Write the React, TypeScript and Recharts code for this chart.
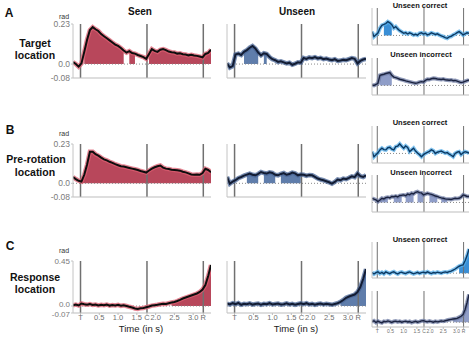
import { Area, ComposedChart, Line, ReferenceLine, XAxis, YAxis } from 'recharts'

// sample times (s), shared by every panel
const TIME = [
  -0.2, -0.125, -0.05, 0.025, 0.1, 0.175, 0.25, 0.325, 0.4, 0.475,
  0.55, 0.625, 0.7, 0.775, 0.85, 0.925, 1.0, 1.075, 1.15, 1.225,
  1.3, 1.375, 1.45, 1.525, 1.6, 1.675, 1.75, 1.825, 1.9, 1.975,
  2.05, 2.125, 2.2, 2.275, 2.35, 2.425, 2.5, 2.575, 2.65, 2.725,
  2.8, 2.875, 2.95, 3.025, 3.1, 3.175, 3.25, 3.325, 3.4, 3.475,
]

const EVENTS = [0, 1.77, 3.27]
const X_TICKS = [0, 0.5, 1, 1.5, 1.77, 2, 2.5, 3, 3.27]
const X_TICK_LABELS = ['T', '0.5', '1.0', '1.5', 'C', '2.0', '2.5', '3.0', 'R']

const Y_TICKS_AB = [0.23, 0, -0.08]
const Y_TICKS_C = [0.45, 0, -0.07]

// row A: target location
const SEEN_TARGET = [
  0.012, 0.0, -0.015, 0.004, 0.07, 0.14, 0.195, 0.212, 0.2, 0.19,
  0.172, 0.16, 0.148, 0.136, 0.124, 0.112, 0.104, 0.092, 0.078, 0.066,
  0.074, 0.063, 0.06, 0.052, 0.046, 0.04, 0.03, 0.058, 0.086, 0.076,
  0.07, 0.082, 0.086, 0.08, 0.072, 0.068, 0.066, 0.06, 0.062, 0.056,
  0.055, 0.05, 0.053, 0.049, 0.047, 0.043, 0.038, 0.058, 0.064, 0.082,
]
const SEEN_TARGET_SIG = [[0.05, 1.2], [1.3, 1.5], [1.8, 3.5]]

const UNSEEN_TARGET = [
  0.004, -0.02, -0.012, 0.055, 0.06, 0.052, 0.07, 0.08, 0.094, 0.104,
  0.09, 0.066, 0.05, 0.062, 0.058, 0.04, 0.028, 0.022, 0.012, 0.016,
  0.01, 0.004, 0.008, -0.004, 0.002, 0.01, 0.008, 0.035, 0.03, 0.038,
  0.034, 0.04, 0.032, 0.036, 0.028, 0.032, 0.026, 0.022, 0.028, 0.018,
  0.02, 0.024, 0.022, 0.028, 0.034, 0.03, 0.004, 0.018, 0.026, 0.03,
]
const UNSEEN_TARGET_SIG = [[0.2, 0.63], [0.74, 0.9]]

const CORRECT_TARGET = [
  0.032, -0.01, 0.005, 0.02, 0.06, 0.085, 0.092, 0.1, 0.116, 0.106,
  0.09, 0.062, 0.074, 0.055, 0.04, 0.03, 0.018, 0.024, 0.012, 0.022,
  0.015, 0.004, 0.01, 0.002, 0.018, 0.022, 0.012, 0.018, 0.004, 0.012,
  0.022, 0.016, 0.008, 0.014, 0.004, -0.004, -0.01, -0.018, -0.024, -0.012,
  -0.008, 0.004, 0.012, 0.024, 0.032, 0.02, 0.004, 0.014, 0.022, 0.018,
]
const CORRECT_TARGET_SIG = [[0.25, 0.6]]

const INCORRECT_TARGET = [
  0.004, 0.0, 0.008, 0.018, 0.085, 0.09, 0.094, 0.1, 0.104, 0.108,
  0.086, 0.07, 0.066, 0.06, 0.052, 0.048, 0.044, 0.038, 0.034, 0.03,
  0.026, 0.022, 0.018, 0.022, 0.028, 0.032, 0.028, 0.042, 0.052, 0.05,
  0.056, 0.06, 0.058, 0.054, 0.052, 0.05, 0.054, 0.048, 0.046, 0.044,
  0.046, 0.04, 0.042, 0.036, 0.03, 0.024, 0.028, 0.034, 0.04, 0.046,
]
const INCORRECT_TARGET_SIG = [[0.05, 0.6]]

// row B: pre-rotation location
const SEEN_PREROT = [
  0.037, 0.025, 0.015, 0.01, 0.05, 0.11, 0.185, 0.185, 0.17, 0.162,
  0.15, 0.14, 0.134, 0.126, 0.12, 0.112, 0.106, 0.1, 0.098, 0.094,
  0.09, 0.086, 0.082, 0.078, 0.072, 0.068, 0.063, 0.075, 0.086, 0.094,
  0.1, 0.104, 0.092, 0.086, 0.084, 0.08, 0.078, 0.076, 0.074, 0.068,
  0.064, 0.058, 0.052, 0.05, 0.052, 0.05, 0.06, 0.085, 0.078, 0.065,
]
const SEEN_PREROT_SIG = [[0.02, 3.5]]

const UNSEEN_PREROT = [
  0.037, -0.002, 0.01, 0.018, 0.03, 0.037, 0.045, 0.051, 0.057, 0.05,
  0.047, 0.055, 0.066, 0.06, 0.057, 0.064, 0.061, 0.05, 0.047, 0.055,
  0.06, 0.05, 0.054, 0.063, 0.058, 0.047, 0.052, 0.05, 0.044, 0.049,
  0.047, 0.038, 0.028, 0.022, 0.018, 0.012, 0.006, -0.002, 0.008, 0.022,
  0.018, 0.028, 0.024, 0.032, 0.041, 0.036, 0.057, 0.042, 0.037, 0.047,
]
const UNSEEN_PREROT_SIG = [[0.3, 0.63], [0.77, 1.12], [1.22, 1.53], [1.57, 1.78]]

const CORRECT_PREROT = [
  0.015, -0.027, -0.01, 0.005, 0.03, 0.044, 0.032, 0.03, 0.048, 0.052,
  0.036, 0.03, 0.057, 0.062, 0.08, 0.06, 0.044, 0.063, 0.05, 0.015,
  0.03, 0.044, 0.02, 0.003, -0.01, -0.027, -0.01, 0.0, 0.01, 0.018,
  0.03, 0.022, 0.0, 0.01, 0.015, 0.02, 0.012, 0.003, 0.008, -0.005,
  -0.015, -0.027, 0.0, 0.01, 0.015, -0.01, 0.005, 0.015, 0.01, 0.003,
]
const CORRECT_PREROT_SIG: number[][] = []

const INCORRECT_PREROT = [
  0.035, 0.028, 0.021, 0.007, 0.02, 0.035, 0.03, 0.04, 0.044, 0.038,
  0.05, 0.048, 0.054, 0.046, 0.058, 0.06, 0.063, 0.056, 0.07, 0.065,
  0.077, 0.072, 0.085, 0.09, 0.082, 0.08, 0.063, 0.07, 0.077, 0.072,
  0.068, 0.062, 0.054, 0.05, 0.042, 0.038, 0.035, 0.03, 0.028, 0.027,
  0.025, 0.03, 0.035, 0.032, 0.035, 0.045, 0.063, 0.058, 0.05, 0.05,
]
const INCORRECT_PREROT_SIG = [[0.1, 0.45], [0.6, 0.95], [1.05, 1.4], [1.5, 1.78], [1.95, 2.3], [2.4, 2.7]]

// row C: response location
const SEEN_RESP = [
  0.008, 0.015, 0.005, 0.025, 0.018, 0.012, 0.02, 0.01, 0.015, 0.006,
  0.012, 0.008, 0.015, 0.004, 0.01, 0.006, 0.012, 0.002, 0.008, 0.0,
  -0.008, -0.015, -0.025, -0.03, -0.022, -0.02, -0.012, -0.005, 0.004, 0.008,
  0.012, 0.018, 0.022, 0.02, 0.028, 0.035, 0.04, 0.05, 0.062, 0.075,
  0.085, 0.095, 0.105, 0.115, 0.125, 0.14, 0.165, 0.21, 0.3, 0.41,
]
const SEEN_RESP_SIG = [[2.4, 3.5]]

const UNSEEN_RESP = [
  0.025, 0.015, 0.028, 0.018, 0.03, 0.012, 0.022, 0.018, 0.026, 0.014,
  0.02, 0.024, 0.012, 0.022, 0.018, 0.028, 0.015, 0.02, 0.024, 0.014,
  0.018, 0.026, 0.016, 0.022, 0.012, 0.02, 0.026, 0.018, 0.028, 0.015,
  0.022, 0.012, 0.02, 0.025, 0.015, 0.022, 0.018, 0.012, 0.02, 0.028,
  0.042, 0.06, 0.082, 0.095, 0.105, 0.115, 0.14, 0.19, 0.27, 0.37,
]
const UNSEEN_RESP_SIG = [[2.75, 3.5]]

const CORRECT_RESP = [
  0.01, -0.012, 0.008, 0.02, -0.005, 0.012, -0.01, 0.018, 0.005, -0.008,
  0.01, 0.02, 0.0, -0.012, 0.008, 0.015, 0.002, -0.006, 0.01, 0.018,
  0.004, -0.01, 0.0, 0.012, -0.004, 0.008, 0.014, 0.004, 0.02, 0.006,
  -0.006, 0.01, 0.002, 0.015, 0.008, 0.0, 0.012, 0.018, 0.01, 0.022,
  0.03, 0.045, 0.06, 0.08, 0.1, 0.112, 0.12, 0.18, 0.25, 0.35,
]
const CORRECT_RESP_SIG = [[3.1, 3.5]]

const INCORRECT_RESP = [
  0.008, 0.02, -0.005, 0.015, 0.0, -0.01, 0.012, 0.005, 0.018, 0.008,
  -0.004, 0.01, 0.015, 0.004, 0.012, 0.0, 0.008, 0.014, 0.002, 0.01,
  -0.006, 0.004, 0.012, 0.0, 0.008, 0.018, 0.022, 0.012, 0.005, 0.015,
  0.008, 0.0, 0.012, 0.004, 0.01, 0.018, 0.012, 0.02, 0.028, 0.035,
  0.04, 0.045, 0.05, 0.055, 0.07, 0.085, 0.11, 0.18, 0.28, 0.4,
]
const INCORRECT_RESP_SIG = [[2.85, 3.5]]

interface Ink {
  fill: string
  halo: string
  line: string
  width: number
}

const SEEN_INK: Ink = { fill: '#b8475b', halo: '#dc5e70', line: '#0d0d0d', width: 2 }
const UNSEEN_INK: Ink = { fill: '#5f7dab', halo: '#4a6595', line: '#121c33', width: 2 }
const CORRECT_INK: Ink = { fill: '#3a8fd6', halo: '#55aee8', line: '#0b3963', width: 1.4 }
const INCORRECT_INK: Ink = { fill: '#8f9dc8', halo: '#6c7aa2', line: '#1b2340', width: 1.4 }

const FONT = '"Liberation Sans", Arial, Helvetica, sans-serif'

function buildRows(values: number[], sig: number[][]) {
  return TIME.map((t, i) => {
    const on = sig.some(([a, b]) => t >= a && t <= b)
    return { t, v: values[i], s: on ? values[i] : null }
  })
}

// y tick label; in tight axes the zero and bottom labels are pushed apart a little
function renderYTick(props: any, ticks: number[]) {
  const { x, y, payload } = props
  const value = Number(payload.value)
  const tight = ticks[0] > 0.3
  let nudge = 0
  if (tight && value === 0) nudge = -1.5
  if (tight && value === ticks[ticks.length - 1]) nudge = 1.5
  return (
    <text
      x={x}
      y={y + nudge}
      dy="0.35em"
      textAnchor="end"
      fontSize={tight ? 8 : 8.5}
      fill="#7a7a7a"
      fontFamily={FONT}
    >
      {value === 0 ? '0.0' : String(value)}
    </text>
  )
}

interface PanelProps {
  values: number[]
  sig: number[][]
  left: number
  top: number
  width: number
  height: number
  yDomain: [number, number]
  yTicks?: number[]
  xLabelSize?: number
  ink: Ink
  small?: boolean
}

function Panel({ values, sig, left, top, width, height, yDomain, yTicks, xLabelSize, ink, small }: PanelProps) {
  const padL = yTicks ? 30 : 2
  const padT = 6
  const padR = 4
  const axisH = xLabelSize ? xLabelSize + 6 : 4
  const rows = buildRows(values, sig)
  return (
    <div style={{ position: 'absolute', left: left - padL, top: top - padT }}>
      <ComposedChart
        width={padL + width + padR}
        height={padT + height + axisH}
        data={rows}
        margin={{ top: padT, right: padR, bottom: 0, left: 0 }}
      >
        <XAxis
          dataKey="t"
          type="number"
          domain={[-0.2, 3.475]}
          allowDataOverflow
          ticks={X_TICKS}
          interval={0}
          height={axisH}
          stroke="#bdbdbd"
          tickSize={2}
          tickMargin={0}
          tickFormatter={(v) => X_TICK_LABELS[X_TICKS.indexOf(Number(v))] ?? ''}
          tick={xLabelSize ? { fontSize: xLabelSize, fill: '#6f6f6f', fontFamily: FONT } : false}
        />
        <YAxis
          type="number"
          domain={yDomain}
          allowDataOverflow
          width={padL}
          ticks={yTicks ?? []}
          interval={0}
          stroke="#c4c4c4"
          tickSize={2}
          tickMargin={1}
          tickLine={!!yTicks}
          tick={yTicks ? (p: any) => renderYTick(p, yTicks) : false}
        />
        <Area
          dataKey="s"
          type="linear"
          fill={ink.fill}
          fillOpacity={1}
          stroke="none"
          baseValue={0}
          connectNulls={false}
          dot={false}
          activeDot={false}
          isAnimationActive={false}
        />
        <ReferenceLine y={0} stroke="#8a8a8a" strokeDasharray="1 2" />
        {EVENTS.map((e) => (
          <ReferenceLine key={e} x={e} stroke="#707070" strokeWidth={small ? 1 : 1.5} />
        ))}
        <Line
          dataKey="v"
          type="linear"
          stroke={ink.halo}
          strokeOpacity={0.75}
          strokeWidth={ink.width + 2.5}
          dot={false}
          activeDot={false}
          isAnimationActive={false}
        />
        <Line
          dataKey="v"
          type="linear"
          stroke={ink.line}
          strokeWidth={ink.width}
          dot={false}
          activeDot={false}
          isAnimationActive={false}
        />
      </ComposedChart>
    </div>
  )
}

function Text({ x, y, size, bold, color, children }: { x: number; y: number; size: number; bold?: boolean; color?: string; children: string }) {
  return (
    <div
      style={{
        position: 'absolute',
        left: x,
        top: y,
        transform: 'translate(-50%, -50%)',
        fontSize: size,
        fontWeight: bold ? 700 : 400,
        color: color ?? '#111',
        whiteSpace: 'nowrap',
        lineHeight: 1,
      }}
    >
      {children}
    </div>
  )
}

const AB: [number, number] = [-0.08, 0.23]
const C: [number, number] = [-0.07, 0.45]

export default function App() {
  return (
    <div
      style={{
        position: 'absolute',
        left: 0,
        top: 0,
        width: 474,
        height: 339,
        overflow: 'hidden',
        background: '#fff',
        fontFamily: FONT,
      }}
    >
      {/* column heads */}
      <Text x={140} y={12} size={10} bold>Seen</Text>
      <Text x={297} y={12} size={10} bold>Unseen</Text>

      {/* row A */}
      <Text x={9} y={13} size={12} bold>A</Text>
      <Text x={35} y={43} size={10.5} bold>Target</Text>
      <Text x={35} y={55} size={10.5} bold>location</Text>
      <Text x={64} y={16} size={7} color="#333">rad</Text>
      <Panel values={SEEN_TARGET} sig={SEEN_TARGET_SIG} left={73} top={24} width={138} height={54} yDomain={AB} yTicks={Y_TICKS_AB} ink={SEEN_INK} />
      <Panel values={UNSEEN_TARGET} sig={UNSEEN_TARGET_SIG} left={227} top={24} width={139} height={54} yDomain={AB} ink={UNSEEN_INK} />
      <Text x={420} y={6} size={7.5} bold>Unseen correct</Text>
      <Panel values={CORRECT_TARGET} sig={CORRECT_TARGET_SIG} left={372} top={8} width={97} height={37} yDomain={AB} ink={CORRECT_INK} small />
      <Text x={421} y={55} size={7.5} bold>Unseen incorrect</Text>
      <Panel values={INCORRECT_TARGET} sig={INCORRECT_TARGET_SIG} left={372} top={58} width={97} height={37} yDomain={AB} ink={INCORRECT_INK} small />

      {/* row B */}
      <Text x={10} y={130} size={12} bold>B</Text>
      <Text x={36} y={159} size={10.5} bold>Pre-rotation</Text>
      <Text x={35} y={172} size={10.5} bold>location</Text>
      <Text x={64} y={133} size={7} color="#333">rad</Text>
      <Panel values={SEEN_PREROT} sig={SEEN_PREROT_SIG} left={73} top={144} width={138} height={53} yDomain={AB} yTicks={Y_TICKS_AB} ink={SEEN_INK} />
      <Panel values={UNSEEN_PREROT} sig={UNSEEN_PREROT_SIG} left={227} top={144} width={139} height={53} yDomain={AB} ink={UNSEEN_INK} />
      <Text x={420} y={123} size={7.5} bold>Unseen correct</Text>
      <Panel values={CORRECT_PREROT} sig={CORRECT_PREROT_SIG} left={372} top={126} width={97} height={37} yDomain={AB} ink={CORRECT_INK} small />
      <Text x={421} y={173} size={7.5} bold>Unseen incorrect</Text>
      <Panel values={INCORRECT_PREROT} sig={INCORRECT_PREROT_SIG} left={372} top={175} width={97} height={37} yDomain={AB} ink={INCORRECT_INK} small />

      {/* row C */}
      <Text x={10} y={246} size={12} bold>C</Text>
      <Text x={35} y={277} size={10.5} bold>Response</Text>
      <Text x={35} y={289} size={10.5} bold>location</Text>
      <Text x={64} y={250} size={7} color="#333">rad</Text>
      <Panel values={SEEN_RESP} sig={SEEN_RESP_SIG} left={73} top={261} width={138} height={52} yDomain={C} yTicks={Y_TICKS_C} xLabelSize={7.5} ink={SEEN_INK} />
      <Panel values={UNSEEN_RESP} sig={UNSEEN_RESP_SIG} left={227} top={261} width={139} height={52} yDomain={C} xLabelSize={7.5} ink={UNSEEN_INK} />
      <Text x={141} y={329} size={9.5} color="#222">Time (in s)</Text>
      <Text x={296} y={329} size={9.5} color="#222">Time (in s)</Text>
      <Text x={420} y={240} size={7.5} bold>Unseen correct</Text>
      <Panel values={CORRECT_RESP} sig={CORRECT_RESP_SIG} left={372} top={242} width={97} height={36} yDomain={C} ink={CORRECT_INK} small />
      <Panel values={INCORRECT_RESP} sig={INCORRECT_RESP_SIG} left={372} top={291} width={97} height={36} yDomain={C} xLabelSize={5} ink={INCORRECT_INK} small />
    </div>
  )
}
